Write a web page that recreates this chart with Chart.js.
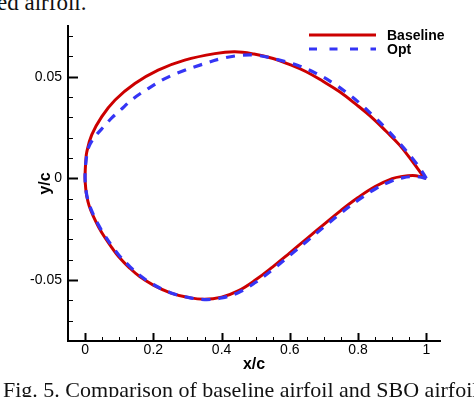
<!DOCTYPE html>
<html>
<head>
<meta charset="utf-8">
<script src="https://cdn.jsdelivr.net/npm/chart.js@4.4.1/dist/chart.umd.min.js"></script>
<style>
  html, body { margin: 0; padding: 0; background: #fff; }
  body { width: 474px; height: 397px; position: relative; overflow: hidden; }
  #wrap { position: absolute; left: 0; top: 0; width: 474px; height: 397px; }
  .cap { position: absolute; font-family: "Liberation Serif", serif; color: #111; white-space: nowrap; }
  #capTop { left: -3px; top: -9px; font-size: 23px; line-height: 23px; }
  #capBottom { left: 3px; top: 379px; font-size: 22px; line-height: 22px; }
</style>
</head>
<body>
<div class="cap" id="capTop">ed airfoil.</div>
<div id="wrap"><canvas id="airfoilChart"></canvas></div>
<div class="cap" id="capBottom">Fig. 5. Comparison of baseline airfoil and SBO airfoil</div>
<script>
document.addEventListener('DOMContentLoaded', () => {
    // --- DATA (trailing edge -> upper surface -> leading edge -> lower surface -> trailing edge) ---
    const baseX = [1, 0.994, 0.96, 0.921, 0.882, 0.843, 0.795, 0.746, 0.697, 0.648, 0.60, 0.551, 0.495, 0.439, 0.38, 0.292, 0.214, 0.146, 0.088, 0.049, 0.0195, 0.005, 0.002, 0.0008, 0,
                   0.002, 0.005, 0.012, 0.024, 0.04, 0.058, 0.08, 0.10, 0.13, 0.16, 0.20, 0.25, 0.30, 0.35, 0.40, 0.45, 0.50, 0.55, 0.60, 0.65, 0.70, 0.75, 0.80, 0.85, 0.90, 0.93, 0.96, 0.98, 1];
    const baseY = [0, 0.0005, 0.0082, 0.0165, 0.0232, 0.0296, 0.0363, 0.0426, 0.0478, 0.0525, 0.0560, 0.0590, 0.0612, 0.0623, 0.0614, 0.0582, 0.0533, 0.0467, 0.0386, 0.0304, 0.0214, 0.0130, 0.0080, 0.0050, 0,
                   -0.0050, -0.0088, -0.0135, -0.0186, -0.0240, -0.0291, -0.0344, -0.0388, -0.0440, -0.0483, -0.0525, -0.0563, -0.0585, -0.0595, -0.0584, -0.0552, -0.0499, -0.0435, -0.0366, -0.0296, -0.0226, -0.0157, -0.0094, -0.0040, -0.0001, 0.0010, 0.0014, 0.0010, 0];

    const optX = [1, 0.985, 0.96, 0.921, 0.882, 0.843, 0.804, 0.765, 0.726, 0.677, 0.624, 0.57, 0.502, 0.453, 0.40, 0.341, 0.292, 0.234, 0.185, 0.141, 0.102, 0.079, 0.056, 0.035, 0.0205, 0.0102, 0.0044, 0.0009, 0,
                  0.002, 0.005, 0.012, 0.024, 0.04, 0.058, 0.08, 0.10, 0.13, 0.16, 0.20, 0.25, 0.30, 0.35, 0.40, 0.45, 0.50, 0.55, 0.60, 0.65, 0.70, 0.75, 0.80, 0.85, 0.90, 0.93, 0.96, 0.98, 1];
    const optY = [0, 0.0040, 0.0097, 0.0174, 0.0245, 0.0310, 0.0371, 0.0424, 0.0470, 0.0517, 0.0556, 0.0582, 0.0606, 0.0605, 0.0590, 0.0560, 0.0532, 0.0491, 0.0442, 0.0392, 0.0334, 0.0299, 0.0257, 0.0218, 0.0186, 0.0152, 0.0108, 0.0049, 0,
                  -0.0047, -0.0082, -0.0127, -0.0177, -0.0231, -0.0282, -0.0335, -0.0379, -0.0432, -0.0477, -0.0522, -0.0562, -0.0585, -0.0596, -0.0588, -0.0561, -0.0511, -0.0448, -0.0379, -0.0309, -0.0239, -0.0170, -0.0107, -0.0052, -0.0011, 0.0003, 0.0009, 0.0007, 0];

    const xTickVals = [0, 0.2, 0.4, 0.6, 0.8, 1];
    const yTickVals = [-0.05, 0, 0.05];

    const FONT = '"Liberation Sans", Arial, sans-serif';

    const toPoints = (xs, ys) => xs.map((x, i) => ({ x: x, y: ys[i] }));

    // --- PLUGINS ---
    // inward tick marks, major + minor
    const innerTicks = {
        id: 'innerTicks',
        afterDraw(chart) {
            const { ctx, chartArea } = chart;
            const xs = chart.scales.x, ys = chart.scales.y;
            ctx.save();
            ctx.strokeStyle = '#000';
            for (let i = 0; i <= 20; i++) {
                const major = i % 4 === 0;
                const px = Math.round(xs.getPixelForValue(i * 0.05)) + 0.5;
                ctx.lineWidth = major ? 2 : 1;
                ctx.beginPath();
                ctx.moveTo(px, chartArea.bottom);
                ctx.lineTo(px, chartArea.bottom - (major ? 8 : 4));
                ctx.stroke();
            }
            for (let i = -7; i <= 7; i++) {
                const major = i % 5 === 0;
                const py = Math.round(ys.getPixelForValue(i * 0.01)) + 0.5;
                ctx.lineWidth = major ? 2 : 1;
                ctx.beginPath();
                ctx.moveTo(chartArea.left, py);
                ctx.lineTo(chartArea.left + (major ? 10 : 5), py);
                ctx.stroke();
            }
            ctx.restore();
        }
    };

    // legend in upper right of plot
    const lineLegend = {
        id: 'lineLegend',
        afterDraw(chart) {
            const ctx = chart.ctx;
            chart.data.datasets.forEach((ds, i) => {
                const y = 35 + i * 14;
                ctx.save();
                ctx.strokeStyle = ds.borderColor;
                ctx.lineWidth = 3;
                ctx.setLineDash(ds.borderDash ? [8, 12.5] : []);
                ctx.beginPath();
                ctx.moveTo(309, y);
                ctx.lineTo(376, y);
                ctx.stroke();
                ctx.setLineDash([]);
                ctx.fillStyle = '#000';
                ctx.font = 'bold 14px ' + FONT;
                ctx.textBaseline = 'middle';
                ctx.fillText(ds.label, 387, y + 1);
                ctx.restore();
            });
        }
    };

    const ctx = document.getElementById('airfoilChart').getContext('2d');
    new Chart(ctx, {
        type: 'scatter',
        data: {
            datasets: [{
                label: 'Baseline',
                data: toPoints(baseX, baseY),
                showLine: true,
                borderColor: '#cc0000',
                borderWidth: 3,
                pointRadius: 0,
                tension: 0.4,
                fill: false,
                order: 1
            }, {
                label: 'Opt',
                data: toPoints(optX, optY),
                showLine: true,
                borderColor: '#3535f5',
                borderWidth: 3.2,
                borderDash: [9, 8],
                pointRadius: 0,
                tension: 0.4,
                fill: false,
                order: 0
            }]
        },
        options: {
            responsive: true,
            maintainAspectRatio: false,
            animation: false,
            layout: { padding: { left: 0, top: 26, right: 34, bottom: 0 } },
            plugins: {
                legend: { display: false },
                tooltip: { enabled: false }
            },
            scales: {
                x: {
                    type: 'linear',
                    min: -0.05,
                    max: 1.04,
                    afterBuildTicks: s => { s.ticks = xTickVals.map(v => ({ value: v })); },
                    afterFit: s => { s.height = 56; },
                    grid: { display: false, drawTicks: false },
                    border: { display: true, color: '#000', width: 2 },
                    ticks: {
                        color: '#000',
                        font: { family: FONT, size: 14 },
                        padding: 1,
                        maxRotation: 0,
                        callback: v => String(Math.round(v * 10) / 10)
                    },
                    title: {
                        display: true,
                        text: 'x/c',
                        color: '#000',
                        font: { family: FONT, size: 16, weight: 'bold' },
                        padding: { top: 0, bottom: 23 }
                    }
                },
                y: {
                    type: 'linear',
                    min: -0.08,
                    max: 0.075,
                    afterBuildTicks: s => { s.ticks = yTickVals.map(v => ({ value: v })); },
                    afterFit: s => { s.width = 68; },
                    grid: { display: false, drawTicks: false },
                    border: { display: true, color: '#000', width: 2 },
                    ticks: {
                        color: '#000',
                        font: { family: FONT, size: 14 },
                        padding: 6,
                        callback: v => String(Math.round(v * 100) / 100)
                    },
                    title: {
                        display: true,
                        text: 'y/c',
                        color: '#000',
                        font: { family: FONT, size: 16, weight: 'bold' },
                        padding: { top: 36, bottom: 0 }
                    }
                }
            }
        },
        plugins: [innerTicks, lineLegend]
    });
});
</script>
</body>
</html>
